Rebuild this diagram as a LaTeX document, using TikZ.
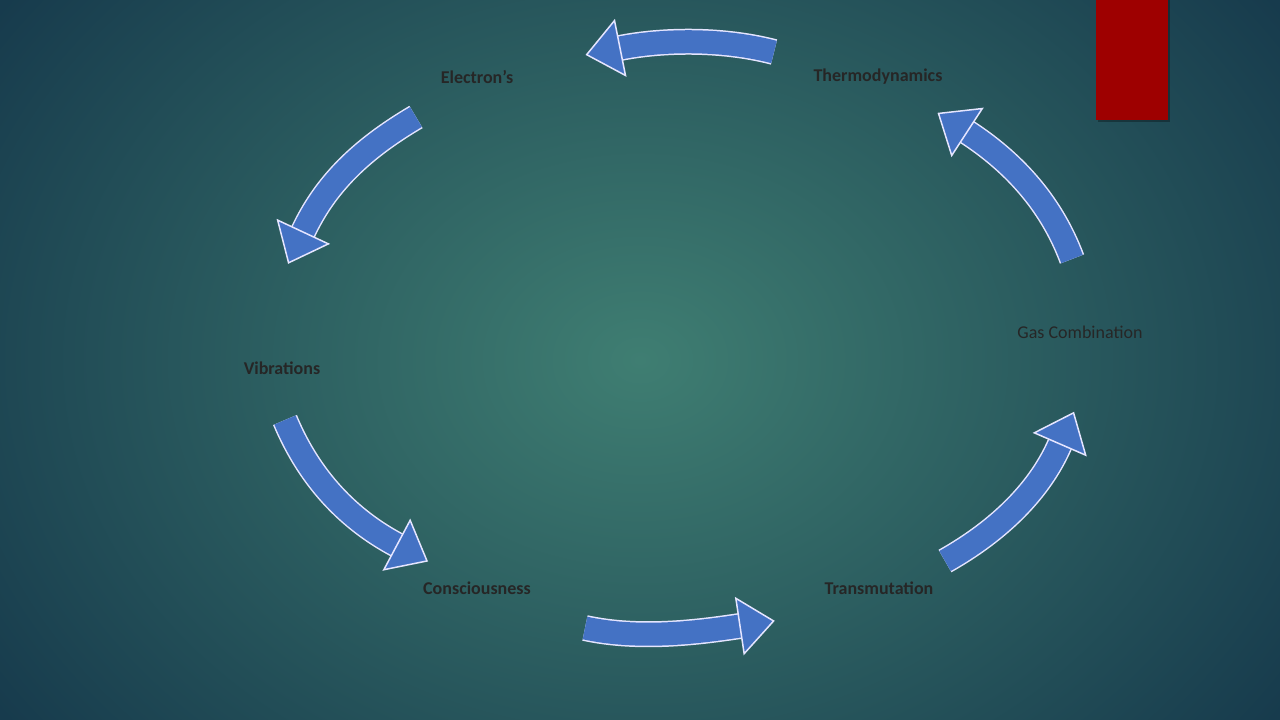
\documentclass[tikz,border=0pt]{standalone}
\usepackage{fontspec}
\setmainfont{Carlito}
\usetikzlibrary{calc}
\begin{document}
\begin{tikzpicture}[x=1pt,y=-1pt,
  body/.style={line width=26pt,draw=white!90!blue,line cap=butt},
  bodyin/.style={line width=23pt,draw=arr,line cap=butt},
  head/.style={fill=arr,draw=white!90!blue,line width=1.5pt,line join=miter},
  lab/.style={font=\fontsize{18}{20}\selectfont\bfseries,text=black!85}]
\definecolor{arr}{HTML}{4472C4}
\definecolor{bgin}{HTML}{3F7E72}
\definecolor{bgout}{HTML}{14364A}
\useasboundingbox (0,0) rectangle (1280,720);
\fill[inner color=bgin,outer color=bgout] (-200,-300) rectangle (1480,1020);
% red block
\fill[black,opacity=0.3] (1098,0) rectangle (1170,122);
\fill[red!60!black!95!red] (1096,0) rectangle (1168,120);
% arrows
\def\arrow#1#2#3#4{%
  \draw[body] #1 .. controls #2 and #3 .. #4;
  \draw[bodyin] #1 .. controls #2 and #3 .. #4;
  \filldraw[head] ($#4!28pt!90:#3$) -- ($#4!-34pt!#3$) -- ($#4!28pt!-90:#3$) -- cycle;}
\arrow{(774,52)}{(720,38)}{(660,40)}{(620,48)}
\arrow{(416,117)}{(360,150)}{(325,185)}{(303,232)}
\arrow{(285,420)}{(310,480)}{(350,520)}{(397,545)}
\arrow{(585,628)}{(640,640)}{(700,632)}{(740,626)}
\arrow{(945,561)}{(1000,530)}{(1040,490)}{(1060,444)}
\arrow{(1072,259)}{(1050,200)}{(1010,160)}{(967,132)}
% labels
\node[lab] (e) at (477,77) {Electron’s};
\node[lab] (t) at (878,77) {Thermodynamics};
\node[lab,font=\fontsize{18}{20}\selectfont] (g) at (1080,332) {Gas Combination};
\node[lab] (v) at (282,368) {Vibrations};
\node[lab] (c) at (477,588) {Consciousness};
\node[lab] (tr) at (879,588) {Transmutation};
\end{tikzpicture}
\end{document}
